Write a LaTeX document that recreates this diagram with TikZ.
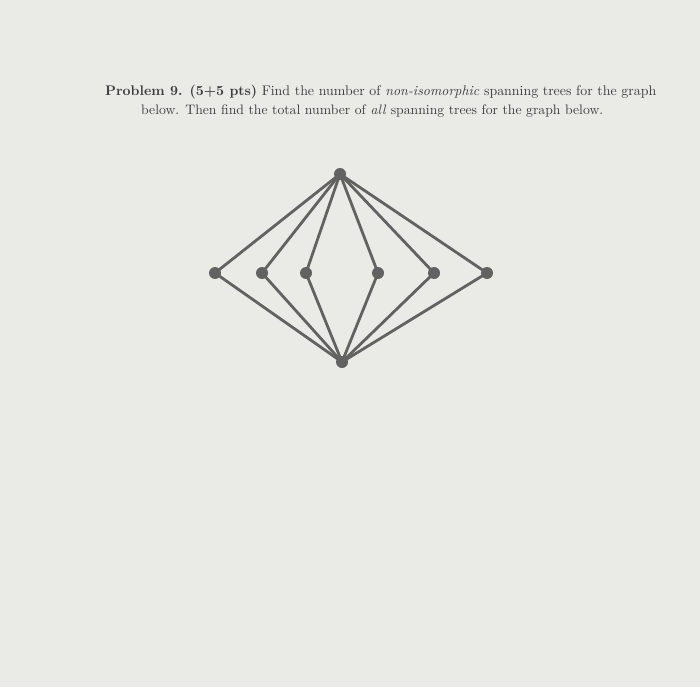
\documentclass[tikz,border=0pt]{standalone}
\usepackage{graphicx}
\definecolor{bgc}{HTML}{EAEAE6}
\definecolor{inkc}{HTML}{3C3C3C}
\definecolor{edgec}{HTML}{626262}
\begin{document}
\begin{tikzpicture}[x=1pt,y=-1pt,
  vert/.style={circle,fill=edgec,inner sep=0pt,minimum size=12pt},
  edge/.style={draw=edgec,line width=2.8pt},
  txt/.style={anchor=base west,inner sep=0pt,text=inkc}]
\fill[bgc] (0,0) rectangle (700,687);
\useasboundingbox (0,0) rectangle (700,687);
\node[txt] (l1) at (105,96) {\resizebox{551pt}{!}{\textbf{Problem 9. (5+5 pts)} Find the number of \textit{non-isomorphic} spanning trees for the graph}};
\node[txt] (l2) at (141,114) {\resizebox{462pt}{!}{below. Then find the total number of \textit{all} spanning trees for the graph below.}};
\node[vert] (t) at (340,174) {};
\node[vert] (b) at (342,362) {};
\node[vert] (m1) at (215,273) {};
\node[vert] (m2) at (262,273) {};
\node[vert] (m3) at (306,273) {};
\node[vert] (m4) at (378,273) {};
\node[vert] (m5) at (434,273) {};
\node[vert] (m6) at (487,273) {};
\foreach \m in {m1,m2,m3,m4,m5,m6}{
  \draw[edge] (t.center) -- (\m.center) -- (b.center);
}
\end{tikzpicture}
\end{document}
